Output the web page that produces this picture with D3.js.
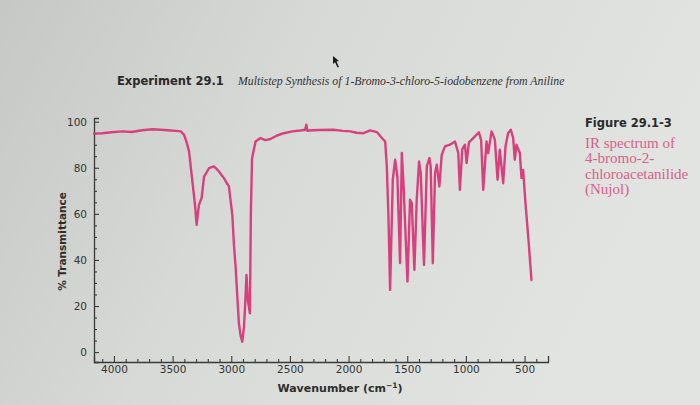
<!DOCTYPE html>
<html>
<head>
<meta charset="utf-8">
<script src="https://cdn.jsdelivr.net/npm/d3@7"></script>
<style>
html,body{margin:0;padding:0;background:#d6d9d6;}
svg{display:block;}
</style>
</head>
<body>
<svg id="chart" width="700" height="405"></svg>
<script>
// ---- data ----
const wavenumbers = [4170,4100,4020,3926,3850,3760,3671,3600,3516,3470,3430,3402,3380,3360,3331,3309,3295,3285,3275,3252,3232,3210,3190,3148,3125,3105,3085,3062,3040,3020,2991,2977,2963,2935,2920,2906,2892,2882,2870,2857,2841,2833,2823,2793,2751,2710,2666,2610,2552,2480,2410,2370,2360,2350,2340,2250,2127,2050,1986,1930,1873,1816,1759,1716,1688,1674,1660,1646,1623,1603,1584,1561,1546,1532,1498,1476,1461,1439,1419,1399,1385,1357,1333,1311,1300,1282,1263,1248,1226,1206,1178,1136,1093,1065,1051,1031,1008,994,974,937,889,870,852,824,810,781,753,730,711,682,662,640,617,597,583,569,540,526,512,492,464,441];
const transmittance = [94.8,95.0,95.4,95.8,95.5,96.3,96.7,96.5,96.2,96.0,95.8,94.3,91.0,87.1,74.0,63.9,55.2,60.0,63.9,67.0,76.2,78.0,79.8,80.6,79.5,78.4,77.0,75.5,73.5,71.9,59.6,46.5,37.0,12.6,7.0,4.5,10.6,20.0,33.5,22.0,16.8,60.0,84.0,91.4,92.9,92.0,92.5,94.0,95.0,95.8,96.2,96.5,98.7,96.0,96.2,96.4,96.5,96.0,95.8,95.2,95.0,96.2,95.5,92.9,91.4,80.6,58.8,27.0,74.8,83.5,76.2,38.6,86.4,73.3,30.6,66.1,64.6,35.7,66.1,82.7,77.7,37.8,80.6,84.2,80.6,38.6,77.7,81.3,71.9,85.7,89.3,90.0,91.4,86.4,70.4,88.0,90.0,82.0,91.0,92.9,95.4,92.0,70.4,91.4,86.4,95.8,92.2,74.8,87.8,73.3,89.3,95.0,96.5,92.9,83.5,90.0,86.4,75.5,79.1,64.6,47.2,31.3];
const yTicks = [0,20,40,60,80,100];
const xTicks = [4000,3500,3000,2500,2000,1500,1000,500];

const svg = d3.select("#chart");
const sans = "'DejaVu Sans', 'Liberation Sans', Arial, sans-serif";
const serif = "'Liberation Serif', 'Times New Roman', serif";

// background (photographed page)
const defs = svg.append("defs");
const g1 = defs.append("linearGradient").attr("id","bg").attr("x1","0").attr("y1","0").attr("x2","1").attr("y2","0.3");
g1.append("stop").attr("offset","0").attr("stop-color","#c5c8c5");
g1.append("stop").attr("offset","0.45").attr("stop-color","#d7dad7");
g1.append("stop").attr("offset","1").attr("stop-color","#e2e4e1");
svg.append("rect").attr("width",700).attr("height",405).attr("fill","url(#bg)");

const x = d3.scaleLinear().domain([4170, 300]).range([94, 548]);
const y = d3.scaleLinear().domain([-4.3, 101.6]).range([362, 118]);

const axisColor = "#3a3a3a";

// y axis: inward ticks, minor every 5
svg.append("g").attr("transform", `translate(${x(4170)},0)`)
  .call(d3.axisLeft(y).tickValues(yTicks).tickSize(-5).tickPadding(7).tickFormat(d3.format("d")));
svg.append("g").attr("transform", `translate(${x(4170)},0)`)
  .call(d3.axisLeft(y).tickValues(d3.range(0,101,5).filter(v=>v%20!==0)).tickSize(-3).tickFormat(""))
  .call(g=>g.select(".domain").remove());

// x axis: inward ticks, minor every 100
const xAxis = svg.append("g").attr("transform", `translate(0,${y(-4.3)})`)
  .call(d3.axisBottom(x).tickValues(xTicks).tickSize(-6).tickPadding(4).tickFormat(d3.format("d")));
svg.append("g").attr("transform", `translate(0,${y(-4.3)})`)
  .call(d3.axisBottom(x).tickValues(d3.range(400,4101,100).filter(v=>v%500!==0)).tickSize(-3).tickFormat(""))
  .call(g=>g.select(".domain").remove());

svg.selectAll(".domain").attr("stroke",axisColor).attr("stroke-width",1.3);
svg.selectAll(".tick line").attr("stroke",axisColor).attr("stroke-width",1.1);
svg.selectAll(".tick text").attr("fill","#333").attr("font-family",sans).attr("font-size","10.5px");

// spectrum
const data = wavenumbers.map((w,i)=>({w, t: transmittance[i]}));
const line = d3.line().x(d=>x(d.w)).y(d=>y(d.t)).curve(d3.curveLinear);
svg.append("path").datum(data).attr("d", line)
  .attr("fill","none").attr("stroke","#d8407d").attr("stroke-width",2.4)
  .attr("stroke-linejoin","round").attr("stroke-linecap","round");

// axis titles
svg.append("text").attr("transform", `translate(66,${y(48)}) rotate(-90)`)
  .attr("text-anchor","middle").attr("font-family",sans)
  .attr("font-weight","bold").attr("font-size","10.5px").attr("fill","#2e2e2e")
  .text("% Transmittance");
const xl = svg.append("text").attr("x", 340).attr("y", 392).attr("text-anchor","middle")
  .attr("font-family",sans).attr("font-weight","bold")
  .attr("font-size","11px").attr("fill","#2e2e2e");
xl.append("tspan").text("Wavenumber (cm");
xl.append("tspan").attr("dy","-4").attr("font-size","7.5px").text("−1");
xl.append("tspan").attr("dy","4").text(")");

// header
svg.append("text").attr("x",117).attr("y",85)
  .attr("font-family",sans).attr("font-weight","bold")
  .attr("font-size","11.5px").attr("fill","#2a2a2a").text("Experiment 29.1");
svg.append("text").attr("x",238).attr("y",85)
  .attr("font-family",serif).attr("font-style","italic")
  .attr("font-size","11.8px").attr("fill","#333").text("Multistep Synthesis of 1-Bromo-3-chloro-5-iodobenzene from Aniline");

// mouse cursor in the photo
svg.append("path").attr("d","M333,56 L339,61 L336.5,61.5 L339,67 L337.5,67.6 L335,62.2 L333,64 Z")
  .attr("fill","#1e1e1e");

// figure caption
svg.append("text").attr("x",585).attr("y",127)
  .attr("font-family",sans).attr("font-weight","bold")
  .attr("font-size","11.5px").attr("fill","#2a2a2a").text("Figure 29.1-3");
const capLines = ["IR spectrum of","4-bromo-2-","chloroacetanilide","(Nujol)"];
svg.append("g").selectAll("text").data(capLines).join("text")
  .attr("x",585).attr("y",(d,i)=>147.5 + i*15.5)
  .attr("font-family",serif)
  .attr("font-size","15px").attr("fill","#d6608a").text(d=>d);
</script>
</body>
</html>
